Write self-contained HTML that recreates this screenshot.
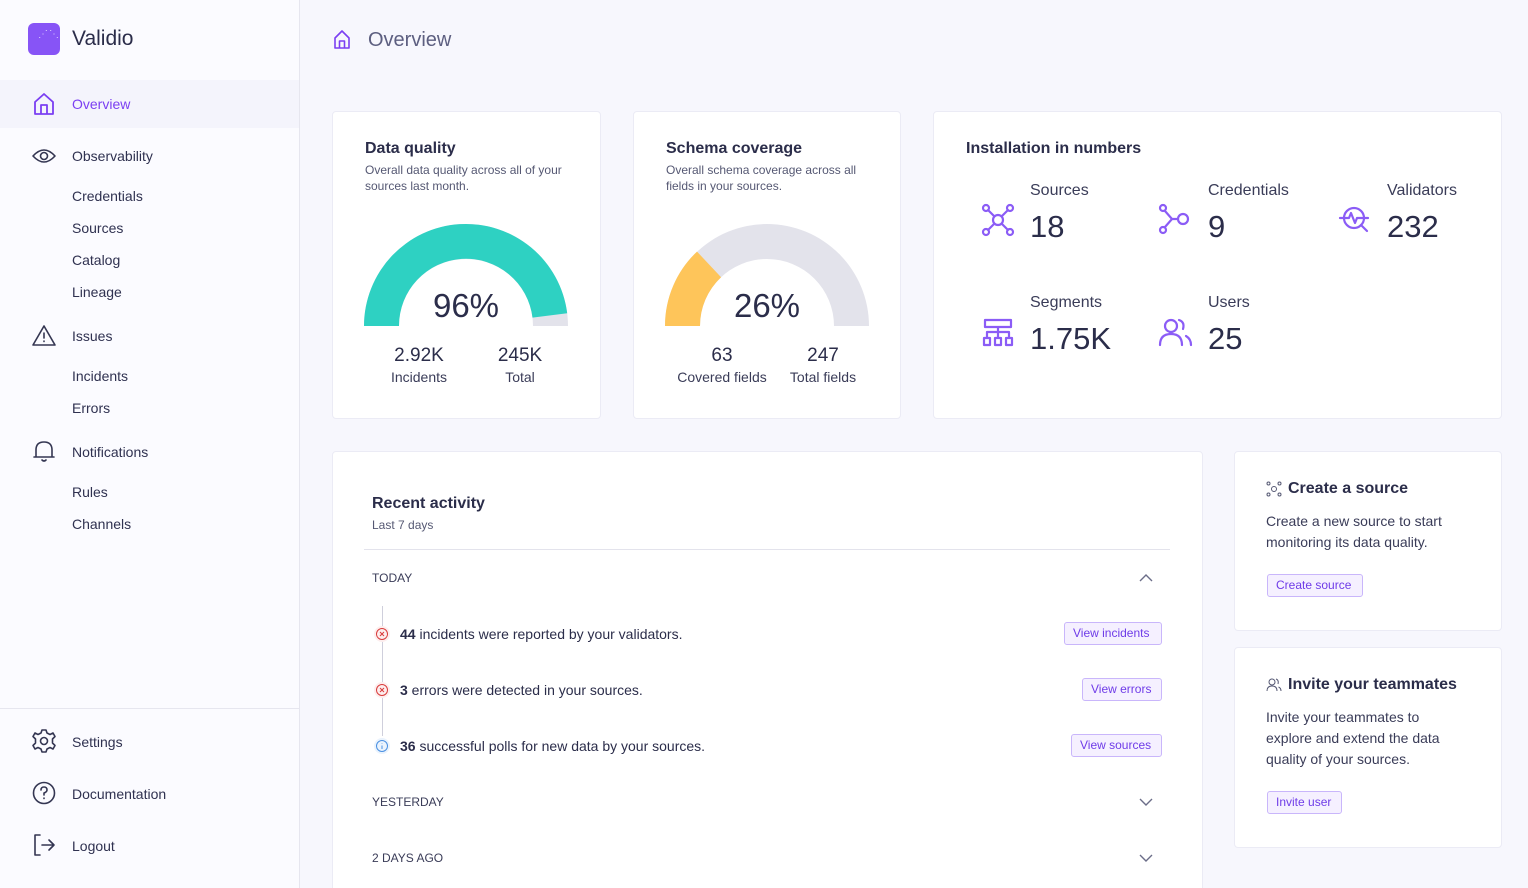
<!DOCTYPE html>
<html><head><meta charset="utf-8"><style>
*{margin:0;padding:0;box-sizing:border-box}
html,body{width:1528px;height:888px;overflow:hidden}
body{background:#f7f7fd;font-family:"Liberation Sans",sans-serif;color:#2b2d4a;position:relative}
.t{position:absolute;white-space:nowrap}
.side{position:absolute;left:0;top:0;width:300px;height:888px;background:#fbfbff;border-right:1px solid #e6e6ef}
.card{position:absolute;background:#fff;border:1px solid #ebebf5;border-radius:4px}
.nav{font-size:14px;color:#2f3150}
.btn{position:absolute;height:23px;border:1px solid #c9b6fb;background:#f5f0ff;border-radius:3px;color:#6f3ce8;font-size:12px;line-height:21px;padding:0 8px;white-space:nowrap}
svg{position:absolute}
.ic{fill:none;stroke:#343652;stroke-width:1.6;stroke-linecap:round;stroke-linejoin:round}
.pi{fill:none;stroke:#8b5cf6;stroke-width:2.2;stroke-linecap:round;stroke-linejoin:round}
.h{font-size:16px;font-weight:bold;color:#2b2d4a}
</style></head><body>
<div class="side"></div>
<div style="position:absolute;left:0;top:80px;width:299px;height:48px;background:#f4f4fc"></div>
<div style="position:absolute;left:0;top:708px;width:299px;border-top:1px solid #e6e6ef"></div>
<div style="position:absolute;left:28px;top:23px;width:32px;height:32px;border-radius:6px;background:#8754f6"></div>
<div class="t" style="left:38px;top:29px;color:#d9c9ff;font-size:10px;letter-spacing:1px">⋰⋱</div>
<div class="t" style="left:72px;top:27px;font-size:21px;color:#2b2d4a">Validio</div>

<svg width="24" height="24" style="left:32px;top:92px"><path d="M3 10 L12 2 L21 10 V22 H3 Z M9 22 V13 H15 V22" fill="none" stroke="#7b3ff2" stroke-width="1.8" stroke-linejoin="round"/></svg>
<div class="t nav" style="left:72px;top:96px;color:#7b3ff2">Overview</div>
<svg width="26" height="20" style="left:31px;top:146px"><path class="ic" d="M2 10 Q13 -2 24 10 Q13 22 2 10Z"/><circle class="ic" cx="13" cy="10" r="3.5"/></svg>
<div class="t nav" style="left:72px;top:148px">Observability</div>
<div class="t nav" style="left:72px;top:188px">Credentials</div>
<div class="t nav" style="left:72px;top:220px">Sources</div>
<div class="t nav" style="left:72px;top:252px">Catalog</div>
<div class="t nav" style="left:72px;top:284px">Lineage</div>
<svg width="26" height="24" style="left:31px;top:324px"><path class="ic" d="M13 2 L24 21 H2 Z M13 9 V14 M13 17 V17.5"/></svg>
<div class="t nav" style="left:72px;top:328px">Issues</div>
<div class="t nav" style="left:72px;top:368px">Incidents</div>
<div class="t nav" style="left:72px;top:400px">Errors</div>
<svg width="26" height="26" style="left:31px;top:439px"><path class="ic" d="M5 18 V11 Q5 3 13 3 Q21 3 21 11 V18 H5 M3 18 H23 M11 21 Q13 23 15 21"/></svg>
<div class="t nav" style="left:72px;top:444px">Notifications</div>
<div class="t nav" style="left:72px;top:484px">Rules</div>
<div class="t nav" style="left:72px;top:516px">Channels</div>

<svg width="26" height="26" style="left:31px;top:728px"><circle class="ic" cx="13" cy="13" r="3.5"/><path class="ic" d="M11 2 H15 L16 5 L19 6.5 L22 5 L24 8.5 L21.5 11 V15 L24 17.5 L22 21 L19 19.5 L16 21 L15 24 H11 L10 21 L7 19.5 L4 21 L2 17.5 L4.5 15 V11 L2 8.5 L4 5 L7 6.5 L10 5 Z"/></svg>
<div class="t nav" style="left:72px;top:734px">Settings</div>
<svg width="26" height="26" style="left:31px;top:780px"><circle class="ic" cx="13" cy="13" r="10.5"/><path class="ic" d="M10 10 Q10 7 13 7 Q16 7 16 10 Q16 12 13 13 V15 M13 18 V18.5"/></svg>
<div class="t nav" style="left:72px;top:786px">Documentation</div>
<svg width="26" height="26" style="left:31px;top:832px"><path class="ic" d="M9 3 H4 V23 H9 M11 13 H23 M18 8 L23 13 L18 18"/></svg>
<div class="t nav" style="left:72px;top:838px">Logout</div>

<svg width="22" height="22" style="left:332px;top:29px"><path d="M3 9 L10 2 L17 9 V19 H3 Z M7.5 19 V12 H12.5 V19" fill="none" stroke="#7b3ff2" stroke-width="1.6" stroke-linejoin="round"/></svg>
<div class="t" style="left:368px;top:29px;font-size:20px;color:#5d5f80">Overview</div>

<!-- cards -->
<div class="card" style="left:332px;top:111px;width:269px;height:308px"></div>
<div class="card" style="left:633px;top:111px;width:268px;height:308px"></div>
<div class="card" style="left:933px;top:111px;width:569px;height:308px"></div>

<svg width="1528" height="888" style="left:0;top:0">
<path d="M364 326 A102 102 0 0 1 568 326 L533 326 A67 67 0 0 0 399 326 Z" fill="#e3e3eb"/>
<path d="M364 326 A102 102 0 0 1 567.2 313.2 L532.5 317.6 A67 67 0 0 0 399 326 Z" fill="#2ed1c2"/>
<path d="M665 326 A102 102 0 0 1 869 326 L834 326 A67 67 0 0 0 700 326 Z" fill="#e3e3eb"/>
<path d="M665 326 A102 102 0 0 1 697 251.6 L721.1 277.2 A67 67 0 0 0 700 326 Z" fill="#fec55a"/>
</svg>

<div class="t h" style="left:365px;top:140px">Data quality</div>
<div class="t" style="left:365px;top:162px;font-size:12px;color:#555873;line-height:16px;white-space:normal;width:210px">Overall data quality across all of your sources last month.</div>
<div class="t" style="left:366px;top:287px;width:200px;text-align:center;font-size:33px;color:#2b2d4a">96%</div>
<div class="t" style="left:369px;top:345px;width:100px;text-align:center;font-size:19px">2.92K</div>
<div class="t" style="left:369px;top:369px;width:100px;text-align:center;font-size:14px;color:#3a3c58">Incidents</div>
<div class="t" style="left:470px;top:345px;width:100px;text-align:center;font-size:19px">245K</div>
<div class="t" style="left:470px;top:369px;width:100px;text-align:center;font-size:14px;color:#3a3c58">Total</div>

<div class="t h" style="left:666px;top:140px">Schema coverage</div>
<div class="t" style="left:666px;top:162px;font-size:12px;color:#555873;line-height:16px;white-space:normal;width:210px">Overall schema coverage across all fields in your sources.</div>
<div class="t" style="left:667px;top:287px;width:200px;text-align:center;font-size:33px">26%</div>
<div class="t" style="left:672px;top:345px;width:100px;text-align:center;font-size:19px">63</div>
<div class="t" style="left:667px;top:369px;width:110px;text-align:center;font-size:14px;color:#3a3c58">Covered fields</div>
<div class="t" style="left:773px;top:345px;width:100px;text-align:center;font-size:19px">247</div>
<div class="t" style="left:768px;top:369px;width:110px;text-align:center;font-size:14px;color:#3a3c58">Total fields</div>

<div class="t h" style="left:966px;top:140px">Installation in numbers</div>
<div class="t" style="left:1030px;top:182px;font-size:16px;color:#3a3c58">Sources</div>
<div class="t" style="left:1030px;top:209px;font-size:31px">18</div>
<div class="t" style="left:1208px;top:182px;font-size:16px;color:#3a3c58">Credentials</div>
<div class="t" style="left:1208px;top:209px;font-size:31px">9</div>
<div class="t" style="left:1387px;top:182px;font-size:16px;color:#3a3c58">Validators</div>
<div class="t" style="left:1387px;top:209px;font-size:31px">232</div>
<div class="t" style="left:1030px;top:294px;font-size:16px;color:#3a3c58">Segments</div>
<div class="t" style="left:1030px;top:321px;font-size:31px">1.75K</div>
<div class="t" style="left:1208px;top:294px;font-size:16px;color:#3a3c58">Users</div>
<div class="t" style="left:1208px;top:321px;font-size:31px">25</div>
<svg width="34" height="34" style="left:981px;top:203px"><circle class="pi" cx="17" cy="17" r="5"/><circle class="pi" cx="5" cy="5" r="3"/><circle class="pi" cx="29" cy="5" r="3"/><circle class="pi" cx="5" cy="29" r="3"/><circle class="pi" cx="29" cy="29" r="3"/><path class="pi" d="M7 7 L13 13 M27 7 L21 13 M7 27 L13 21 M27 27 L21 21"/></svg>
<svg width="34" height="34" style="left:1158px;top:203px"><circle class="pi" cx="5" cy="5" r="3"/><circle class="pi" cx="5" cy="27" r="3"/><circle class="pi" cx="25" cy="16" r="5"/><path class="pi" d="M7 8 L14 16 H20 M7 24 L14 16"/></svg>
<svg width="36" height="34" style="left:1338px;top:203px"><circle class="pi" cx="16" cy="15" r="10"/><path class="pi" d="M2 15 H11 L13 10 L17 20 L19 15 H30 M23 22 L29 28"/></svg>
<svg width="34" height="34" style="left:981px;top:316px"><path class="pi" d="M4 4 H30 V11 H4 Z M17 11 V16 M6 16 H28 M6 16 V22 M17 16 V22 M28 16 V22 M3 22 H9 V29 H3Z M14 22 H20 V29 H14Z M25 22 H31 V29 H25Z"/></svg>
<svg width="36" height="34" style="left:1158px;top:316px"><circle class="pi" cx="13" cy="10" r="6"/><path class="pi" d="M2 29 Q2 18 13 18 Q24 18 24 29 M21 4 Q27 6 25 13 M28 20 Q33 23 33 29"/></svg>

<!-- Recent activity -->
<div class="card" style="left:332px;top:451px;width:871px;height:450px"></div>
<div class="t h" style="left:372px;top:495px">Recent activity</div>
<div class="t" style="left:372px;top:518px;font-size:12px;color:#555873">Last 7 days</div>
<div style="position:absolute;left:364px;top:549px;width:806px;border-top:1px solid #e3e3ec"></div>
<div class="t" style="left:372px;top:571px;font-size:12px;color:#3a3c58">TODAY</div>
<svg width="16" height="10" style="left:1139px;top:573px"><path d="M1 8 L7 2 L13 8" fill="none" stroke="#6b6d88" stroke-width="1.4"/></svg>
<div style="position:absolute;left:382px;top:606px;height:130px;border-left:1px solid #cfcfdc"></div>
<svg width="16" height="16" style="left:374px;top:626px"><circle cx="8" cy="8" r="8" fill="#fdeeee"/><circle cx="8" cy="8" r="5.5" fill="none" stroke="#d93c3c" stroke-width="1"/><path d="M6 6 L10 10 M10 6 L6 10" stroke="#d93c3c" stroke-width="1"/></svg>
<svg width="16" height="16" style="left:374px;top:682px"><circle cx="8" cy="8" r="8" fill="#fdeeee"/><circle cx="8" cy="8" r="5.5" fill="none" stroke="#d93c3c" stroke-width="1"/><path d="M6 6 L10 10 M10 6 L6 10" stroke="#d93c3c" stroke-width="1"/></svg>
<svg width="16" height="16" style="left:374px;top:738px"><circle cx="8" cy="8" r="8" fill="#eaf3fd"/><circle cx="8" cy="8" r="5.5" fill="none" stroke="#4a90e2" stroke-width="1"/><path d="M8 7.5 V11 M8 5.5 V6" stroke="#4a90e2" stroke-width="1"/></svg>
<div class="t" style="left:400px;top:626px;font-size:14px"><b>44</b> incidents were reported by your validators.</div>
<div class="t" style="left:400px;top:682px;font-size:14px"><b>3</b> errors were detected in your sources.</div>
<div class="t" style="left:400px;top:738px;font-size:14px"><b>36</b> successful polls for new data by your sources.</div>
<div class="btn" style="left:1064px;top:622px;width:98px">View incidents</div>
<div class="btn" style="left:1082px;top:678px;width:80px">View errors</div>
<div class="btn" style="left:1071px;top:734px;width:91px">View sources</div>
<div class="t" style="left:372px;top:795px;font-size:12px;color:#3a3c58">YESTERDAY</div>
<svg width="16" height="10" style="left:1139px;top:797px"><path d="M1 2 L7 8 L13 2" fill="none" stroke="#6b6d88" stroke-width="1.4"/></svg>
<div class="t" style="left:372px;top:851px;font-size:12px;color:#3a3c58">2 DAYS AGO</div>
<svg width="16" height="10" style="left:1139px;top:853px"><path d="M1 2 L7 8 L13 2" fill="none" stroke="#6b6d88" stroke-width="1.4"/></svg>

<!-- Right cards -->
<div class="card" style="left:1234px;top:451px;width:268px;height:180px"></div>
<svg width="16" height="16" style="left:1266px;top:481px"><circle cx="8" cy="8" r="2.5" fill="none" stroke="#555873" stroke-width="1"/><circle cx="2.5" cy="2.5" r="1.5" fill="none" stroke="#555873"/><circle cx="13.5" cy="2.5" r="1.5" fill="none" stroke="#555873"/><circle cx="2.5" cy="13.5" r="1.5" fill="none" stroke="#555873"/><circle cx="13.5" cy="13.5" r="1.5" fill="none" stroke="#555873"/></svg>
<div class="t h" style="left:1288px;top:480px">Create a source</div>
<div class="t" style="left:1266px;top:511px;font-size:14px;line-height:21px;color:#3a3c58;white-space:normal;width:200px">Create a new source to start monitoring its data quality.</div>
<div class="btn" style="left:1267px;top:574px;width:96px">Create source</div>

<div class="card" style="left:1234px;top:647px;width:268px;height:201px"></div>
<svg width="16" height="16" style="left:1266px;top:677px"><circle cx="6" cy="5" r="3" fill="none" stroke="#555873"/><path d="M1 14 Q1 9 6 9 Q11 9 11 14 M10 2 Q13 3 12 7 M12.5 10 Q15 11 15 14" fill="none" stroke="#555873"/></svg>
<div class="t h" style="left:1288px;top:676px">Invite your teammates</div>
<div class="t" style="left:1266px;top:707px;font-size:14px;line-height:21px;color:#3a3c58;white-space:normal;width:200px">Invite your teammates to explore and extend the data quality of your sources.</div>
<div class="btn" style="left:1267px;top:791px;width:75px">Invite user</div>
</body></html>
